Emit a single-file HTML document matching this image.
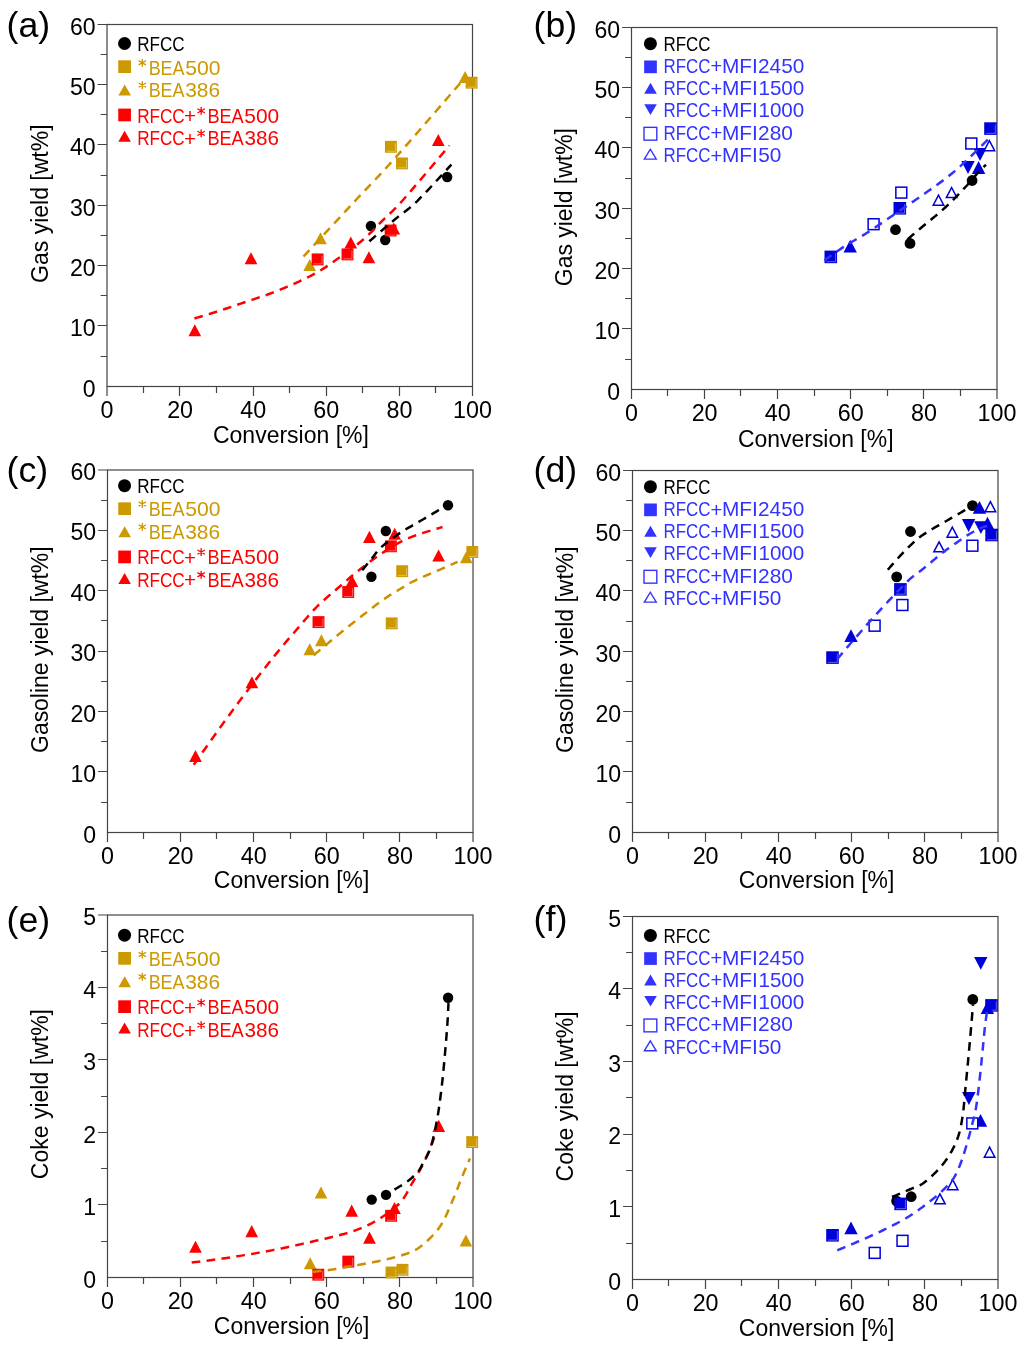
<!DOCTYPE html>
<html><head><meta charset="utf-8"><style>
html,body{margin:0;padding:0;background:#fff;}
svg{display:block;will-change:transform;font-family:"Liberation Sans", sans-serif;}
</style></head><body>
<svg width="1024" height="1352" viewBox="0 0 1024 1352">
<rect width="1024" height="1352" fill="#fff"/>
<rect x="107" y="24.5" width="365.5" height="362" fill="none" stroke="#444444" stroke-width="1.2"/>
<text x="95.6" y="396.5" font-size="23.8" text-anchor="end" textLength="12.84" lengthAdjust="spacingAndGlyphs">0</text>
<text x="95.6" y="336.17" font-size="23.8" text-anchor="end" textLength="25.68" lengthAdjust="spacingAndGlyphs">10</text>
<text x="95.6" y="275.83" font-size="23.8" text-anchor="end" textLength="25.68" lengthAdjust="spacingAndGlyphs">20</text>
<text x="95.6" y="215.5" font-size="23.8" text-anchor="end" textLength="25.68" lengthAdjust="spacingAndGlyphs">30</text>
<text x="95.6" y="155.17" font-size="23.8" text-anchor="end" textLength="25.68" lengthAdjust="spacingAndGlyphs">40</text>
<text x="95.6" y="94.83" font-size="23.8" text-anchor="end" textLength="25.68" lengthAdjust="spacingAndGlyphs">50</text>
<text x="95.6" y="34.5" font-size="23.8" text-anchor="end" textLength="25.68" lengthAdjust="spacingAndGlyphs">60</text>
<text x="107" y="418.4" font-size="23.8" text-anchor="middle" textLength="12.97" lengthAdjust="spacingAndGlyphs">0</text>
<text x="180.1" y="418.4" font-size="23.8" text-anchor="middle" textLength="25.94" lengthAdjust="spacingAndGlyphs">20</text>
<text x="253.2" y="418.4" font-size="23.8" text-anchor="middle" textLength="25.94" lengthAdjust="spacingAndGlyphs">40</text>
<text x="326.3" y="418.4" font-size="23.8" text-anchor="middle" textLength="25.94" lengthAdjust="spacingAndGlyphs">60</text>
<text x="399.4" y="418.4" font-size="23.8" text-anchor="middle" textLength="25.94" lengthAdjust="spacingAndGlyphs">80</text>
<text x="472.5" y="418.4" font-size="23.8" text-anchor="middle" textLength="38.92" lengthAdjust="spacingAndGlyphs">100</text>
<path d="M100.6,356.5H107M97.6,325.5H107M100.6,295.5H107M97.6,265.5H107M100.6,235.5H107M97.6,205.5H107M100.6,175.5H107M97.6,144.5H107M100.6,114.5H107M97.6,84.5H107M100.6,54.5H107M97.6,24.5H107M107,386.5V395.9M143.5,386.5V392.9M179.5,386.5V395.9M216.5,386.5V392.9M253.5,386.5V395.9M289.5,386.5V392.9M326.5,386.5V395.9M362.5,386.5V392.9M399.5,386.5V395.9M435.5,386.5V392.9M472.5,386.5V395.9" stroke="#444444" stroke-width="1.2" fill="none"/>
<text x="212.95" y="442.9" font-size="23.1" textLength="155.98" lengthAdjust="spacingAndGlyphs">Conversion [%]</text>
<text x="47.8" y="282.95" font-size="23.1" textLength="158.59" lengthAdjust="spacingAndGlyphs" transform="rotate(-90 47.8 282.95)">Gas yield [wt%]</text>
<text x="6.59" y="36.6" font-size="35" textLength="43.63" lengthAdjust="spacingAndGlyphs">(a)</text>
<circle cx="370.9" cy="226" r="5.2" fill="#000000"/>
<circle cx="385.2" cy="240" r="5.2" fill="#000000"/>
<circle cx="447.2" cy="177" r="5.2" fill="#000000"/>
<rect x="384.95" y="140.85" width="11.9" height="11.9" fill="#CC9900"/>
<path d="M395.35,143.05V151.25H386.75" fill="none" stroke="#fff" stroke-opacity="0.42" stroke-width="0.9"/>
<rect x="396.05" y="157.45" width="11.9" height="11.9" fill="#CC9900"/>
<path d="M406.45,159.65V167.85H397.85" fill="none" stroke="#fff" stroke-opacity="0.42" stroke-width="0.9"/>
<rect x="465.65" y="76.75" width="11.9" height="11.9" fill="#CC9900"/>
<path d="M476.05,78.95V87.15H467.45" fill="none" stroke="#fff" stroke-opacity="0.42" stroke-width="0.9"/>
<polygon points="303.35,271.05 316.05,271.05 309.7,258.95" fill="#CC9900"/>
<polygon points="314.15,244.35 326.85,244.35 320.5,232.25" fill="#CC9900"/>
<polygon points="458.75,83.05 471.45,83.05 465.1,70.95" fill="#CC9900"/>
<rect x="311.65" y="253.45" width="11.9" height="11.9" fill="#FF0000"/>
<path d="M322.05,255.65V263.85H313.45" fill="none" stroke="#fff" stroke-opacity="0.42" stroke-width="0.9"/>
<rect x="341.55" y="248.45" width="11.9" height="11.9" fill="#FF0000"/>
<path d="M351.95,250.65V258.85H343.35" fill="none" stroke="#fff" stroke-opacity="0.42" stroke-width="0.9"/>
<rect x="384.65" y="224.55" width="11.9" height="11.9" fill="#FF0000"/>
<path d="M395.05,226.75V234.95H386.45" fill="none" stroke="#fff" stroke-opacity="0.42" stroke-width="0.9"/>
<polygon points="188.45,336.25 201.15,336.25 194.8,324.15" fill="#FF0000"/>
<polygon points="244.65,264.25 257.35,264.25 251,252.15" fill="#FF0000"/>
<polygon points="344.45,248.55 357.15,248.55 350.8,236.45" fill="#FF0000"/>
<polygon points="362.55,263.35 375.25,263.35 368.9,251.25" fill="#FF0000"/>
<polygon points="387.45,234.55 400.15,234.55 393.8,222.45" fill="#FF0000"/>
<polygon points="431.95,146.05 444.65,146.05 438.3,133.95" fill="#FF0000"/>
<path d="M303.5,256.5 L306.71,253.04 L310.91,248.52 L315.9,243.13 L321.49,237.11 L327.48,230.66 L333.66,223.99 L339.84,217.33 L345.82,210.88 L351.41,204.87 L356.4,199.5 L360.78,194.82 L364.73,190.62 L368.39,186.77 L371.88,183.11 L375.32,179.5 L378.83,175.79 L382.53,171.83 L386.54,167.48 L390.99,162.58 L396,157 L401.89,150.35 L408.72,142.58 L416.2,134.01 L424.04,124.99 L431.98,115.84 L439.71,106.91 L446.96,98.53 L453.45,91.02 L458.89,84.74 L463,80" fill="none" stroke="#CD8E00" stroke-width="2.5" stroke-dasharray="8.7 6.3"/>
<path d="M194.4,318.5 L195.96,318.02 L197.94,317.42 L200.27,316.72 L202.89,315.93 L205.73,315.07 L208.73,314.15 L211.82,313.2 L214.94,312.23 L218.02,311.26 L221,310.3 L224.02,309.31 L227.21,308.24 L230.54,307.12 L233.93,305.97 L237.33,304.8 L240.69,303.65 L243.94,302.53 L247.03,301.47 L249.9,300.48 L252.5,299.6 L254.82,298.82 L256.93,298.11 L258.85,297.48 L260.62,296.89 L262.27,296.35 L263.83,295.83 L265.33,295.32 L266.8,294.82 L268.28,294.3 L269.8,293.75 L271.31,293.19 L272.76,292.64 L274.15,292.1 L275.5,291.56 L276.82,291.03 L278.13,290.49 L279.43,289.96 L280.73,289.41 L282.05,288.86 L283.4,288.3 L284.77,287.73 L286.13,287.16 L287.5,286.59 L288.87,286.01 L290.24,285.42 L291.62,284.83 L292.99,284.24 L294.36,283.63 L295.73,283.02 L297.1,282.4 L298.47,281.77 L299.85,281.14 L301.24,280.5 L302.62,279.85 L304,279.19 L305.38,278.53 L306.75,277.86 L308.11,277.18 L309.46,276.5 L310.8,275.8 L312.12,275.1 L313.44,274.39 L314.74,273.68 L316.04,272.96 L317.33,272.23 L318.61,271.48 L319.88,270.73 L321.16,269.97 L322.43,269.19 L323.7,268.4 L324.93,267.62 L326.09,266.87 L327.21,266.12 L328.32,265.37 L329.44,264.6 L330.6,263.79 L331.83,262.92 L333.16,261.97 L334.6,260.94 L336.2,259.8 L337.99,258.52 L339.98,257.11 L342.12,255.58 L344.36,253.98 L346.66,252.33 L348.96,250.66 L351.22,249.01 L353.4,247.39 L355.44,245.85 L357.3,244.4 L359,243.04 L360.61,241.72 L362.13,240.44 L363.57,239.19 L364.96,237.98 L366.29,236.78 L367.57,235.6 L368.83,234.43 L370.07,233.26 L371.3,232.1 L372.45,230.99 L373.47,229.98 L374.4,229.02 L375.28,228.09 L376.16,227.15 L377.07,226.16 L378.06,225.1 L379.16,223.93 L380.43,222.6 L381.9,221.1 L383.47,219.55 L385.04,218.06 L386.66,216.56 L388.37,214.99 L390.21,213.27 L392.23,211.33 L394.48,209.1 L396.99,206.52 L399.82,203.51 L403,200 L406.82,195.66 L411.4,190.37 L416.52,184.39 L421.97,177.99 L427.52,171.43 L432.97,164.98 L438.09,158.9 L442.68,153.45 L446.53,148.89 L449.4,145.5" fill="none" stroke="#FF0000" stroke-width="2.5" stroke-dasharray="8.7 6.3"/>
<path d="M369.3,241.3 L370.87,239.95 L372.92,238.19 L375.35,236.1 L378.08,233.76 L381,231.26 L384.03,228.66 L387.08,226.05 L390.05,223.52 L392.85,221.14 L395.4,219 L397.68,217.13 L399.8,215.47 L401.81,213.95 L403.75,212.5 L405.68,211.05 L407.65,209.53 L409.72,207.86 L411.93,205.98 L414.34,203.82 L417,201.3 L420.08,198.23 L423.61,194.59 L427.46,190.53 L431.49,186.23 L435.55,181.84 L439.5,177.55 L443.21,173.51 L446.52,169.9 L449.3,166.87 L451.4,164.6" fill="none" stroke="#000000" stroke-width="2.5" stroke-dasharray="8.7 6.3"/>
<circle cx="124.55" cy="43.5" r="6.5" fill="#000000"/>
<text x="137.2" y="51" font-size="21" fill="#000000" textLength="47.33" lengthAdjust="spacingAndGlyphs">RFCC</text>
<rect x="118.25" y="60.3" width="12.7" height="12.7" fill="#CC9900"/>
<path d="M142.3,59.4V66.2M139.05,60.92L145.55,64.67M139.05,64.67L145.55,60.92" stroke="#CC9900" stroke-width="1.35" stroke-linecap="round" fill="none"/>
<text x="148.63" y="74.6" font-size="21" fill="#CC9900" textLength="35.91" lengthAdjust="spacingAndGlyphs">BEA</text>
<text x="185.15" y="74.6" font-size="21" fill="#CC9900" textLength="35.26" lengthAdjust="spacingAndGlyphs">500</text>
<polygon points="118.4,95.6 131,95.6 124.7,84.6" fill="#CC9900"/>
<path d="M142.3,81.7V88.5M139.05,83.23L145.55,86.98M139.05,86.98L145.55,83.23" stroke="#CC9900" stroke-width="1.35" stroke-linecap="round" fill="none"/>
<text x="148.63" y="96.9" font-size="21" fill="#CC9900" textLength="35.91" lengthAdjust="spacingAndGlyphs">BEA</text>
<text x="185.21" y="96.9" font-size="21" fill="#CC9900" textLength="34.9" lengthAdjust="spacingAndGlyphs">386</text>
<rect x="118.25" y="108.6" width="12.7" height="12.7" fill="#FF0000"/>
<text x="137.2" y="122.7" font-size="21" fill="#FF0000" textLength="47.54" lengthAdjust="spacingAndGlyphs">RFCC</text>
<text x="184.11" y="123.3" font-size="21" fill="#FF0000" textLength="11.99" lengthAdjust="spacingAndGlyphs">+</text>
<path d="M201.15,107.5V114.3M197.9,109.03L204.4,112.78M197.9,112.78L204.4,109.03" stroke="#FF0000" stroke-width="1.35" stroke-linecap="round" fill="none"/>
<text x="207.41" y="122.7" font-size="21" fill="#FF0000" textLength="36.32" lengthAdjust="spacingAndGlyphs">BEA</text>
<text x="244.36" y="122.7" font-size="21" fill="#FF0000" textLength="34.84" lengthAdjust="spacingAndGlyphs">500</text>
<polygon points="118.3,141.85 130.9,141.85 124.6,130.85" fill="#FF0000"/>
<text x="137.2" y="145.2" font-size="21" fill="#FF0000" textLength="47.54" lengthAdjust="spacingAndGlyphs">RFCC</text>
<text x="184.11" y="145.8" font-size="21" fill="#FF0000" textLength="11.99" lengthAdjust="spacingAndGlyphs">+</text>
<path d="M201.15,130V136.8M197.9,131.52L204.4,135.27M197.9,135.27L204.4,131.52" stroke="#FF0000" stroke-width="1.35" stroke-linecap="round" fill="none"/>
<text x="207.41" y="145.2" font-size="21" fill="#FF0000" textLength="36.32" lengthAdjust="spacingAndGlyphs">BEA</text>
<text x="244.41" y="145.2" font-size="21" fill="#FF0000" textLength="34.48" lengthAdjust="spacingAndGlyphs">386</text>
<rect x="631.5" y="27.5" width="365.5" height="362" fill="none" stroke="#444444" stroke-width="1.2"/>
<text x="620.1" y="399.5" font-size="23.8" text-anchor="end" textLength="12.84" lengthAdjust="spacingAndGlyphs">0</text>
<text x="620.1" y="339.17" font-size="23.8" text-anchor="end" textLength="25.68" lengthAdjust="spacingAndGlyphs">10</text>
<text x="620.1" y="278.83" font-size="23.8" text-anchor="end" textLength="25.68" lengthAdjust="spacingAndGlyphs">20</text>
<text x="620.1" y="218.5" font-size="23.8" text-anchor="end" textLength="25.68" lengthAdjust="spacingAndGlyphs">30</text>
<text x="620.1" y="158.17" font-size="23.8" text-anchor="end" textLength="25.68" lengthAdjust="spacingAndGlyphs">40</text>
<text x="620.1" y="97.83" font-size="23.8" text-anchor="end" textLength="25.68" lengthAdjust="spacingAndGlyphs">50</text>
<text x="620.1" y="37.5" font-size="23.8" text-anchor="end" textLength="25.68" lengthAdjust="spacingAndGlyphs">60</text>
<text x="631.5" y="421.4" font-size="23.8" text-anchor="middle" textLength="12.97" lengthAdjust="spacingAndGlyphs">0</text>
<text x="704.6" y="421.4" font-size="23.8" text-anchor="middle" textLength="25.94" lengthAdjust="spacingAndGlyphs">20</text>
<text x="777.7" y="421.4" font-size="23.8" text-anchor="middle" textLength="25.94" lengthAdjust="spacingAndGlyphs">40</text>
<text x="850.8" y="421.4" font-size="23.8" text-anchor="middle" textLength="25.94" lengthAdjust="spacingAndGlyphs">60</text>
<text x="923.9" y="421.4" font-size="23.8" text-anchor="middle" textLength="25.94" lengthAdjust="spacingAndGlyphs">80</text>
<text x="997" y="421.4" font-size="23.8" text-anchor="middle" textLength="38.92" lengthAdjust="spacingAndGlyphs">100</text>
<path d="M625.1,359.5H631.5M622.1,328.5H631.5M625.1,298.5H631.5M622.1,268.5H631.5M625.1,238.5H631.5M622.1,208.5H631.5M625.1,178.5H631.5M622.1,147.5H631.5M625.1,117.5H631.5M622.1,87.5H631.5M625.1,57.5H631.5M622.1,27.5H631.5M631.5,389.5V398.9M667.5,389.5V395.9M704.5,389.5V398.9M740.5,389.5V395.9M777.5,389.5V398.9M814.5,389.5V395.9M850.5,389.5V398.9M887.5,389.5V395.9M923.5,389.5V398.9M960.5,389.5V395.9M997,389.5V398.9" stroke="#444444" stroke-width="1.2" fill="none"/>
<text x="737.95" y="446.9" font-size="23.1" textLength="155.57" lengthAdjust="spacingAndGlyphs">Conversion [%]</text>
<text x="572.1" y="286.15" font-size="23.1" textLength="158.08" lengthAdjust="spacingAndGlyphs" transform="rotate(-90 572.1 286.15)">Gas yield [wt%]</text>
<text x="533.59" y="36.6" font-size="35" textLength="43.52" lengthAdjust="spacingAndGlyphs">(b)</text>
<circle cx="895.5" cy="229.7" r="5.4" fill="#000000"/>
<circle cx="910" cy="243.4" r="5.4" fill="#000000"/>
<circle cx="972.1" cy="180.5" r="5.4" fill="#000000"/>
<rect x="824.5" y="250.6" width="12.6" height="12.6" fill="#0000D8"/>
<path d="M835.6,252.8V261.7H826.3" fill="none" stroke="#fff" stroke-opacity="0.42" stroke-width="0.9"/>
<rect x="893.5" y="202" width="12.6" height="12.6" fill="#0000D8"/>
<path d="M904.6,204.2V213.1H895.3" fill="none" stroke="#fff" stroke-opacity="0.42" stroke-width="0.9"/>
<rect x="984.2" y="122.3" width="12.6" height="12.6" fill="#0000D8"/>
<path d="M995.3,124.5V133.4H986" fill="none" stroke="#fff" stroke-opacity="0.42" stroke-width="0.9"/>
<polygon points="843.5,252.5 856.9,252.5 850.2,239.7" fill="#0000D8"/>
<polygon points="971.9,173.9 985.3,173.9 978.6,161.1" fill="#0000D8"/>
<polygon points="961.3,161.1 974.7,161.1 968,173.9" fill="#0000D8"/>
<polygon points="973.3,148.1 986.7,148.1 980,160.9" fill="#0000D8"/>
<rect x="868.15" y="218.75" width="10.9" height="10.9" fill="#fff" stroke="#0000D8" stroke-width="1.5"/>
<rect x="895.85" y="187.15" width="10.9" height="10.9" fill="#fff" stroke="#0000D8" stroke-width="1.5"/>
<rect x="965.85" y="138.05" width="10.9" height="10.9" fill="#fff" stroke="#0000D8" stroke-width="1.5"/>
<polygon points="933.24,205.15 943.76,205.15 938.5,195.12" fill="#fff" stroke="#0000D8" stroke-width="1.5"/>
<polygon points="946.34,197.55 956.86,197.55 951.6,187.52" fill="#fff" stroke="#0000D8" stroke-width="1.5"/>
<polygon points="984.14,150.65 994.66,150.65 989.4,140.62" fill="#fff" stroke="#0000D8" stroke-width="1.5"/>
<path d="M824.4,260.4 L825.52,259.6 L826.93,258.59 L828.59,257.4 L830.45,256.06 L832.48,254.61 L834.63,253.08 L836.87,251.51 L839.15,249.93 L841.44,248.38 L843.7,246.9 L845.98,245.45 L848.35,243.99 L850.81,242.51 L853.33,241.02 L855.89,239.5 L858.49,237.96 L861.11,236.41 L863.73,234.83 L866.33,233.23 L868.9,231.6 L871.44,229.95 L873.96,228.28 L876.48,226.59 L879,224.88 L881.54,223.15 L884.09,221.39 L886.68,219.61 L889.3,217.8 L891.97,215.97 L894.7,214.1 L897.49,212.21 L900.32,210.29 L903.21,208.36 L906.12,206.39 L909.08,204.4 L912.05,202.38 L915.05,200.33 L918.06,198.25 L921.08,196.14 L924.1,194 L927.13,191.85 L930.17,189.7 L933.23,187.55 L936.3,185.36 L939.39,183.14 L942.5,180.87 L945.62,178.52 L948.77,176.09 L951.92,173.55 L955.1,170.9 L958.45,167.97 L962.05,164.68 L965.82,161.15 L969.63,157.51 L973.39,153.86 L976.99,150.32 L980.34,147.02 L983.33,144.07 L985.85,141.59 L987.8,139.7" fill="none" stroke="#3333FF" stroke-width="2.5" stroke-dasharray="8.7 6.3"/>
<path d="M907.6,239.3 L908.36,238.65 L909.28,237.86 L910.35,236.94 L911.56,235.91 L912.9,234.76 L914.36,233.52 L915.93,232.18 L917.6,230.76 L919.36,229.26 L921.2,227.7 L923.19,226.04 L925.37,224.24 L927.71,222.33 L930.16,220.33 L932.69,218.25 L935.27,216.12 L937.84,213.96 L940.38,211.79 L942.85,209.63 L945.2,207.5 L947.52,205.32 L949.89,203.03 L952.27,200.68 L954.65,198.29 L956.98,195.91 L959.23,193.57 L961.38,191.33 L963.4,189.21 L965.25,187.25 L966.9,185.5 L968.32,183.97 L969.53,182.63 L970.56,181.44 L971.45,180.38 L972.24,179.41 L972.98,178.49 L973.69,177.61 L974.42,176.72 L975.21,175.79 L976.1,174.8 L977.1,173.72 L978.18,172.58 L979.3,171.41 L980.45,170.23 L981.58,169.08 L982.66,167.98 L983.66,166.97 L984.56,166.06 L985.31,165.3 L985.9,164.7" fill="none" stroke="#000000" stroke-width="2.5" stroke-dasharray="8.7 6.3"/>
<circle cx="650.4" cy="43.7" r="6.5" fill="#000000"/>
<text x="663.56" y="51" font-size="21" fill="#000000" textLength="46.97" lengthAdjust="spacingAndGlyphs">RFCC</text>
<rect x="644.15" y="60.5" width="12.7" height="12.7" fill="#3333FF"/>
<text x="663.51" y="72.8" font-size="21" fill="#3333FF" textLength="46.92" lengthAdjust="spacingAndGlyphs">RFCC</text>
<text x="710.43" y="73.4" font-size="21" fill="#3333FF" textLength="11.75" lengthAdjust="spacingAndGlyphs">+</text>
<text x="721.99" y="72.8" font-size="21" fill="#3333FF" textLength="35.92" lengthAdjust="spacingAndGlyphs">MFI</text>
<text x="758.06" y="72.8" font-size="21" fill="#3333FF" textLength="46.24" lengthAdjust="spacingAndGlyphs">2450</text>
<polygon points="644.2,93.75 656.8,93.75 650.5,82.75" fill="#3333FF"/>
<text x="663.51" y="94.9" font-size="21" fill="#3333FF" textLength="46.92" lengthAdjust="spacingAndGlyphs">RFCC</text>
<text x="710.43" y="95.5" font-size="21" fill="#3333FF" textLength="11.75" lengthAdjust="spacingAndGlyphs">+</text>
<text x="721.99" y="94.9" font-size="21" fill="#3333FF" textLength="35.92" lengthAdjust="spacingAndGlyphs">MFI</text>
<text x="758.43" y="94.9" font-size="21" fill="#3333FF" textLength="45.86" lengthAdjust="spacingAndGlyphs">1500</text>
<polygon points="644.2,104.3 656.8,104.3 650.5,114.9" fill="#3333FF"/>
<text x="663.51" y="117.1" font-size="21" fill="#3333FF" textLength="46.92" lengthAdjust="spacingAndGlyphs">RFCC</text>
<text x="710.43" y="117.7" font-size="21" fill="#3333FF" textLength="11.75" lengthAdjust="spacingAndGlyphs">+</text>
<text x="721.99" y="117.1" font-size="21" fill="#3333FF" textLength="35.92" lengthAdjust="spacingAndGlyphs">MFI</text>
<text x="758.43" y="117.1" font-size="21" fill="#3333FF" textLength="45.86" lengthAdjust="spacingAndGlyphs">1000</text>
<rect x="644" y="127.35" width="12.8" height="12.8" fill="#fff" stroke="#3333FF" stroke-width="1.4"/>
<text x="663.51" y="139.6" font-size="21" fill="#3333FF" textLength="46.92" lengthAdjust="spacingAndGlyphs">RFCC</text>
<text x="710.43" y="140.2" font-size="21" fill="#3333FF" textLength="11.75" lengthAdjust="spacingAndGlyphs">+</text>
<text x="721.99" y="139.6" font-size="21" fill="#3333FF" textLength="35.92" lengthAdjust="spacingAndGlyphs">MFI</text>
<text x="758.06" y="139.6" font-size="21" fill="#3333FF" textLength="34.85" lengthAdjust="spacingAndGlyphs">280</text>
<polygon points="644.34,159.1 656.26,159.1 650.3,149.25" fill="#fff" stroke="#3333FF" stroke-width="1.4"/>
<text x="663.51" y="161.9" font-size="21" fill="#3333FF" textLength="46.92" lengthAdjust="spacingAndGlyphs">RFCC</text>
<text x="710.43" y="162.5" font-size="21" fill="#3333FF" textLength="11.75" lengthAdjust="spacingAndGlyphs">+</text>
<text x="721.99" y="161.9" font-size="21" fill="#3333FF" textLength="35.92" lengthAdjust="spacingAndGlyphs">MFI</text>
<text x="758.27" y="161.9" font-size="21" fill="#3333FF" textLength="23.13" lengthAdjust="spacingAndGlyphs">50</text>
<rect x="107.5" y="470" width="365.5" height="362.5" fill="none" stroke="#444444" stroke-width="1.2"/>
<text x="96.1" y="842.5" font-size="23.8" text-anchor="end" textLength="12.84" lengthAdjust="spacingAndGlyphs">0</text>
<text x="96.1" y="782.08" font-size="23.8" text-anchor="end" textLength="25.68" lengthAdjust="spacingAndGlyphs">10</text>
<text x="96.1" y="721.67" font-size="23.8" text-anchor="end" textLength="25.68" lengthAdjust="spacingAndGlyphs">20</text>
<text x="96.1" y="661.25" font-size="23.8" text-anchor="end" textLength="25.68" lengthAdjust="spacingAndGlyphs">30</text>
<text x="96.1" y="600.83" font-size="23.8" text-anchor="end" textLength="25.68" lengthAdjust="spacingAndGlyphs">40</text>
<text x="96.1" y="540.42" font-size="23.8" text-anchor="end" textLength="25.68" lengthAdjust="spacingAndGlyphs">50</text>
<text x="96.1" y="480" font-size="23.8" text-anchor="end" textLength="25.68" lengthAdjust="spacingAndGlyphs">60</text>
<text x="107.5" y="864.4" font-size="23.8" text-anchor="middle" textLength="12.97" lengthAdjust="spacingAndGlyphs">0</text>
<text x="180.6" y="864.4" font-size="23.8" text-anchor="middle" textLength="25.94" lengthAdjust="spacingAndGlyphs">20</text>
<text x="253.7" y="864.4" font-size="23.8" text-anchor="middle" textLength="25.94" lengthAdjust="spacingAndGlyphs">40</text>
<text x="326.8" y="864.4" font-size="23.8" text-anchor="middle" textLength="25.94" lengthAdjust="spacingAndGlyphs">60</text>
<text x="399.9" y="864.4" font-size="23.8" text-anchor="middle" textLength="25.94" lengthAdjust="spacingAndGlyphs">80</text>
<text x="473" y="864.4" font-size="23.8" text-anchor="middle" textLength="38.92" lengthAdjust="spacingAndGlyphs">100</text>
<path d="M101.1,802.5H107.5M98.1,771.5H107.5M101.1,741.5H107.5M98.1,711.5H107.5M101.1,681.5H107.5M98.1,651.5H107.5M101.1,620.5H107.5M98.1,590.5H107.5M101.1,560.5H107.5M98.1,530.5H107.5M101.1,500.5H107.5M98.1,470H107.5M107.5,832.5V841.9M143.5,832.5V838.9M180.5,832.5V841.9M216.5,832.5V838.9M253.5,832.5V841.9M290.5,832.5V838.9M326.5,832.5V841.9M363.5,832.5V838.9M399.5,832.5V841.9M436.5,832.5V838.9M473,832.5V841.9" stroke="#444444" stroke-width="1.2" fill="none"/>
<text x="213.85" y="888.4" font-size="23.1" textLength="155.47" lengthAdjust="spacingAndGlyphs">Conversion [%]</text>
<text x="48" y="752.95" font-size="23.1" textLength="206.47" lengthAdjust="spacingAndGlyphs" transform="rotate(-90 48 752.95)">Gasoline yield [wt%]</text>
<text x="6.59" y="481.7" font-size="35" textLength="41.63" lengthAdjust="spacingAndGlyphs">(c)</text>
<circle cx="371.4" cy="576.8" r="5.2" fill="#000000"/>
<circle cx="385.8" cy="531" r="5.2" fill="#000000"/>
<circle cx="448" cy="505.3" r="5.2" fill="#000000"/>
<rect x="385.75" y="617.45" width="11.9" height="11.9" fill="#CC9900"/>
<path d="M396.15,619.65V627.85H387.55" fill="none" stroke="#fff" stroke-opacity="0.42" stroke-width="0.9"/>
<rect x="396.25" y="565.25" width="11.9" height="11.9" fill="#CC9900"/>
<path d="M406.65,567.45V575.65H398.05" fill="none" stroke="#fff" stroke-opacity="0.42" stroke-width="0.9"/>
<rect x="466.35" y="546.05" width="11.9" height="11.9" fill="#CC9900"/>
<path d="M476.75,548.25V556.45H468.15" fill="none" stroke="#fff" stroke-opacity="0.42" stroke-width="0.9"/>
<polygon points="303.45,655.25 316.15,655.25 309.8,643.15" fill="#CC9900"/>
<polygon points="315.05,646.35 327.75,646.35 321.4,634.25" fill="#CC9900"/>
<polygon points="459.95,563.35 472.65,563.35 466.3,551.25" fill="#CC9900"/>
<rect x="312.55" y="616.15" width="11.9" height="11.9" fill="#FF0000"/>
<path d="M322.95,618.35V626.55H314.35" fill="none" stroke="#fff" stroke-opacity="0.42" stroke-width="0.9"/>
<rect x="342.25" y="586.05" width="11.9" height="11.9" fill="#FF0000"/>
<path d="M352.65,588.25V596.45H344.05" fill="none" stroke="#fff" stroke-opacity="0.42" stroke-width="0.9"/>
<rect x="384.95" y="540.35" width="11.9" height="11.9" fill="#FF0000"/>
<path d="M395.35,542.55V550.75H386.75" fill="none" stroke="#fff" stroke-opacity="0.42" stroke-width="0.9"/>
<polygon points="189.15,762.05 201.85,762.05 195.5,749.95" fill="#FF0000"/>
<polygon points="245.55,688.35 258.25,688.35 251.9,676.25" fill="#FF0000"/>
<polygon points="345.65,587.05 358.35,587.05 352,574.95" fill="#FF0000"/>
<polygon points="363.05,542.95 375.75,542.95 369.4,530.85" fill="#FF0000"/>
<polygon points="388.35,539.85 401.05,539.85 394.7,527.75" fill="#FF0000"/>
<polygon points="432.25,561.55 444.95,561.55 438.6,549.45" fill="#FF0000"/>
<path d="M313.7,655.2 L314.77,654.3 L316.19,653.12 L317.87,651.71 L319.76,650.14 L321.77,648.46 L323.84,646.73 L325.9,645.01 L327.88,643.36 L329.7,641.83 L331.3,640.5 L332.71,639.33 L334.02,638.23 L335.24,637.21 L336.4,636.24 L337.52,635.31 L338.6,634.41 L339.68,633.52 L340.75,632.63 L341.86,631.73 L343,630.8 L344.17,629.86 L345.32,628.92 L346.48,628 L347.63,627.08 L348.79,626.16 L349.95,625.24 L351.12,624.31 L352.3,623.39 L353.49,622.45 L354.7,621.5 L355.94,620.53 L357.21,619.55 L358.5,618.55 L359.8,617.54 L361.11,616.54 L362.42,615.54 L363.71,614.55 L364.97,613.57 L366.21,612.62 L367.4,611.7 L368.54,610.81 L369.64,609.95 L370.69,609.12 L371.73,608.3 L372.75,607.49 L373.77,606.68 L374.81,605.88 L375.86,605.07 L376.96,604.24 L378.1,603.4 L379.31,602.52 L380.58,601.61 L381.9,600.67 L383.25,599.73 L384.6,598.79 L385.94,597.86 L387.25,596.97 L388.51,596.12 L389.7,595.32 L390.8,594.6 L391.79,593.96 L392.67,593.42 L393.47,592.93 L394.22,592.49 L394.94,592.08 L395.66,591.67 L396.41,591.25 L397.22,590.8 L398.1,590.29 L399.1,589.7 L400.19,589.04 L401.35,588.33 L402.56,587.57 L403.81,586.79 L405.11,585.98 L406.45,585.16 L407.81,584.35 L409.19,583.54 L410.59,582.75 L412,582 L413.43,581.27 L414.89,580.56 L416.38,579.85 L417.89,579.15 L419.43,578.46 L420.99,577.77 L422.55,577.08 L424.13,576.39 L425.71,575.7 L427.3,575 L428.91,574.3 L430.55,573.59 L432.22,572.87 L433.9,572.16 L435.59,571.45 L437.27,570.74 L438.93,570.04 L440.56,569.35 L442.16,568.67 L443.7,568 L445.25,567.32 L446.86,566.61 L448.49,565.89 L450.11,565.16 L451.67,564.46 L453.16,563.8 L454.53,563.18 L455.75,562.63 L456.78,562.17 L457.6,561.8" fill="none" stroke="#CD8E00" stroke-width="2.5" stroke-dasharray="8.7 6.3"/>
<path d="M193.7,764.8 L195.25,762.61 L197.23,759.8 L199.57,756.47 L202.2,752.74 L205.04,748.72 L208.01,744.51 L211.05,740.22 L214.08,735.97 L217.02,731.86 L219.8,728 L222.48,724.31 L225.16,720.61 L227.86,716.91 L230.57,713.22 L233.29,709.51 L236.03,705.8 L238.78,702.09 L241.56,698.37 L244.37,694.64 L247.2,690.9 L250.11,687.08 L253.13,683.14 L256.22,679.13 L259.34,675.1 L262.46,671.09 L265.54,667.16 L268.54,663.34 L271.43,659.7 L274.16,656.27 L276.7,653.1 L279.03,650.23 L281.18,647.62 L283.17,645.23 L285.05,643.01 L286.85,640.91 L288.61,638.88 L290.35,636.87 L292.13,634.83 L293.97,632.73 L295.9,630.5 L297.91,628.16 L299.95,625.77 L302.01,623.35 L304.08,620.91 L306.17,618.48 L308.26,616.06 L310.36,613.69 L312.45,611.38 L314.53,609.14 L316.6,607 L318.66,604.96 L320.7,603.02 L322.75,601.14 L324.79,599.32 L326.83,597.55 L328.87,595.8 L330.92,594.07 L332.97,592.34 L335.03,590.58 L337.1,588.8 L339.16,587 L341.21,585.21 L343.25,583.42 L345.29,581.63 L347.34,579.85 L349.42,578.07 L351.52,576.28 L353.66,574.49 L355.85,572.7 L358.1,570.9 L360.41,569.08 L362.77,567.22 L365.18,565.35 L367.62,563.47 L370.1,561.59 L372.6,559.74 L375.12,557.9 L377.65,556.11 L380.18,554.38 L382.7,552.7 L385.19,551.08 L387.65,549.49 L390.09,547.95 L392.54,546.43 L395.01,544.96 L397.53,543.52 L400.12,542.11 L402.8,540.74 L405.58,539.4 L408.5,538.1 L411.72,536.8 L415.32,535.48 L419.17,534.16 L423.14,532.88 L427.11,531.64 L430.95,530.47 L434.54,529.4 L437.74,528.45 L440.44,527.64 L442.5,527" fill="none" stroke="#FF0000" stroke-width="2.5" stroke-dasharray="8.7 6.3"/>
<path d="M362.2,570.3 L362.8,569.56 L363.57,568.61 L364.48,567.48 L365.51,566.21 L366.61,564.84 L367.76,563.42 L368.93,561.99 L370.08,560.58 L371.18,559.24 L372.2,558 L373.12,556.85 L373.97,555.75 L374.77,554.68 L375.56,553.62 L376.36,552.56 L377.2,551.5 L378.12,550.41 L379.13,549.29 L380.29,548.13 L381.6,546.9 L383.09,545.6 L384.74,544.22 L386.52,542.8 L388.41,541.33 L390.36,539.85 L392.37,538.37 L394.39,536.9 L396.4,535.48 L398.38,534.1 L400.3,532.8 L402.17,531.57 L404.04,530.4 L405.9,529.27 L407.76,528.17 L409.62,527.1 L411.5,526.04 L413.38,524.98 L415.27,523.91 L417.18,522.82 L419.1,521.7 L421.14,520.5 L423.33,519.21 L425.62,517.87 L427.94,516.5 L430.23,515.16 L432.42,513.87 L434.46,512.67 L436.28,511.6 L437.81,510.7 L439,510" fill="none" stroke="#000000" stroke-width="2.5" stroke-dasharray="8.7 6.3"/>
<circle cx="124.55" cy="485.65" r="6.5" fill="#000000"/>
<text x="137.2" y="493" font-size="21" fill="#000000" textLength="47.33" lengthAdjust="spacingAndGlyphs">RFCC</text>
<rect x="118.25" y="502.35" width="12.7" height="12.7" fill="#CC9900"/>
<path d="M142.3,500.6V507.4M139.05,502.12L145.55,505.87M139.05,505.87L145.55,502.12" stroke="#CC9900" stroke-width="1.35" stroke-linecap="round" fill="none"/>
<text x="148.63" y="515.8" font-size="21" fill="#CC9900" textLength="35.91" lengthAdjust="spacingAndGlyphs">BEA</text>
<text x="185.15" y="515.8" font-size="21" fill="#CC9900" textLength="35.26" lengthAdjust="spacingAndGlyphs">500</text>
<polygon points="118.4,537.35 131,537.35 124.7,526.35" fill="#CC9900"/>
<path d="M142.3,523.5V530.3M139.05,525.03L145.55,528.78M139.05,528.78L145.55,525.03" stroke="#CC9900" stroke-width="1.35" stroke-linecap="round" fill="none"/>
<text x="148.63" y="538.7" font-size="21" fill="#CC9900" textLength="35.91" lengthAdjust="spacingAndGlyphs">BEA</text>
<text x="185.21" y="538.7" font-size="21" fill="#CC9900" textLength="34.9" lengthAdjust="spacingAndGlyphs">386</text>
<rect x="118.25" y="550.55" width="12.7" height="12.7" fill="#FF0000"/>
<text x="137.2" y="563.9" font-size="21" fill="#FF0000" textLength="47.54" lengthAdjust="spacingAndGlyphs">RFCC</text>
<text x="184.11" y="564.5" font-size="21" fill="#FF0000" textLength="11.99" lengthAdjust="spacingAndGlyphs">+</text>
<path d="M201.15,548.7V555.5M197.9,550.23L204.4,553.98M197.9,553.98L204.4,550.23" stroke="#FF0000" stroke-width="1.35" stroke-linecap="round" fill="none"/>
<text x="207.41" y="563.9" font-size="21" fill="#FF0000" textLength="36.32" lengthAdjust="spacingAndGlyphs">BEA</text>
<text x="244.36" y="563.9" font-size="21" fill="#FF0000" textLength="34.84" lengthAdjust="spacingAndGlyphs">500</text>
<polygon points="118.3,583.9 130.9,583.9 124.6,572.9" fill="#FF0000"/>
<text x="137.2" y="586.6" font-size="21" fill="#FF0000" textLength="47.54" lengthAdjust="spacingAndGlyphs">RFCC</text>
<text x="184.11" y="587.2" font-size="21" fill="#FF0000" textLength="11.99" lengthAdjust="spacingAndGlyphs">+</text>
<path d="M201.15,571.4V578.2M197.9,572.93L204.4,576.68M197.9,576.68L204.4,572.93" stroke="#FF0000" stroke-width="1.35" stroke-linecap="round" fill="none"/>
<text x="207.41" y="586.6" font-size="21" fill="#FF0000" textLength="36.32" lengthAdjust="spacingAndGlyphs">BEA</text>
<text x="244.41" y="586.6" font-size="21" fill="#FF0000" textLength="34.48" lengthAdjust="spacingAndGlyphs">386</text>
<rect x="632.5" y="470.5" width="365.5" height="362" fill="none" stroke="#444444" stroke-width="1.2"/>
<text x="621.1" y="842.5" font-size="23.8" text-anchor="end" textLength="12.84" lengthAdjust="spacingAndGlyphs">0</text>
<text x="621.1" y="782.17" font-size="23.8" text-anchor="end" textLength="25.68" lengthAdjust="spacingAndGlyphs">10</text>
<text x="621.1" y="721.83" font-size="23.8" text-anchor="end" textLength="25.68" lengthAdjust="spacingAndGlyphs">20</text>
<text x="621.1" y="661.5" font-size="23.8" text-anchor="end" textLength="25.68" lengthAdjust="spacingAndGlyphs">30</text>
<text x="621.1" y="601.17" font-size="23.8" text-anchor="end" textLength="25.68" lengthAdjust="spacingAndGlyphs">40</text>
<text x="621.1" y="540.83" font-size="23.8" text-anchor="end" textLength="25.68" lengthAdjust="spacingAndGlyphs">50</text>
<text x="621.1" y="480.5" font-size="23.8" text-anchor="end" textLength="25.68" lengthAdjust="spacingAndGlyphs">60</text>
<text x="632.5" y="864.4" font-size="23.8" text-anchor="middle" textLength="12.97" lengthAdjust="spacingAndGlyphs">0</text>
<text x="705.6" y="864.4" font-size="23.8" text-anchor="middle" textLength="25.94" lengthAdjust="spacingAndGlyphs">20</text>
<text x="778.7" y="864.4" font-size="23.8" text-anchor="middle" textLength="25.94" lengthAdjust="spacingAndGlyphs">40</text>
<text x="851.8" y="864.4" font-size="23.8" text-anchor="middle" textLength="25.94" lengthAdjust="spacingAndGlyphs">60</text>
<text x="924.9" y="864.4" font-size="23.8" text-anchor="middle" textLength="25.94" lengthAdjust="spacingAndGlyphs">80</text>
<text x="998" y="864.4" font-size="23.8" text-anchor="middle" textLength="38.92" lengthAdjust="spacingAndGlyphs">100</text>
<path d="M626.1,802.5H632.5M623.1,771.5H632.5M626.1,741.5H632.5M623.1,711.5H632.5M626.1,681.5H632.5M623.1,651.5H632.5M626.1,621.5H632.5M623.1,590.5H632.5M626.1,560.5H632.5M623.1,530.5H632.5M626.1,500.5H632.5M623.1,470.5H632.5M632.5,832.5V841.9M668.5,832.5V838.9M705.5,832.5V841.9M741.5,832.5V838.9M778.5,832.5V841.9M815.5,832.5V838.9M851.5,832.5V841.9M888.5,832.5V838.9M924.5,832.5V841.9M961.5,832.5V838.9M998,832.5V841.9" stroke="#444444" stroke-width="1.2" fill="none"/>
<text x="738.85" y="888.4" font-size="23.1" textLength="155.47" lengthAdjust="spacingAndGlyphs">Conversion [%]</text>
<text x="572.6" y="752.95" font-size="23.1" textLength="206.47" lengthAdjust="spacingAndGlyphs" transform="rotate(-90 572.6 752.95)">Gasoline yield [wt%]</text>
<text x="533.59" y="481.7" font-size="35" textLength="43.52" lengthAdjust="spacingAndGlyphs">(d)</text>
<circle cx="896.7" cy="576.9" r="5.4" fill="#000000"/>
<circle cx="910.5" cy="531.5" r="5.4" fill="#000000"/>
<circle cx="972.5" cy="505.6" r="5.4" fill="#000000"/>
<rect x="826.2" y="651.3" width="12.6" height="12.6" fill="#0000D8"/>
<path d="M837.3,653.5V662.4H828" fill="none" stroke="#fff" stroke-opacity="0.42" stroke-width="0.9"/>
<rect x="894.1" y="583.1" width="12.6" height="12.6" fill="#0000D8"/>
<path d="M905.2,585.3V594.2H895.9" fill="none" stroke="#fff" stroke-opacity="0.42" stroke-width="0.9"/>
<rect x="985.3" y="528.7" width="12.6" height="12.6" fill="#0000D8"/>
<path d="M996.4,530.9V539.8H987.1" fill="none" stroke="#fff" stroke-opacity="0.42" stroke-width="0.9"/>
<polygon points="844.3,642.1 857.7,642.1 851,629.3" fill="#0000D8"/>
<polygon points="972.8,513.8 986.2,513.8 979.5,501" fill="#0000D8"/>
<polygon points="980.8,529.6 994.2,529.6 987.5,516.8" fill="#0000D8"/>
<polygon points="961.9,519.1 975.3,519.1 968.6,531.9" fill="#0000D8"/>
<polygon points="974.2,521.3 987.6,521.3 980.9,534.1" fill="#0000D8"/>
<rect x="869.15" y="620.25" width="10.9" height="10.9" fill="#fff" stroke="#0000D8" stroke-width="1.5"/>
<rect x="896.95" y="599.55" width="10.9" height="10.9" fill="#fff" stroke="#0000D8" stroke-width="1.5"/>
<rect x="966.95" y="540.25" width="10.9" height="10.9" fill="#fff" stroke="#0000D8" stroke-width="1.5"/>
<polygon points="933.84,551.85 944.36,551.85 939.1,541.82" fill="#fff" stroke="#0000D8" stroke-width="1.5"/>
<polygon points="947.04,537.15 957.56,537.15 952.3,527.12" fill="#fff" stroke="#0000D8" stroke-width="1.5"/>
<polygon points="985.14,511.75 995.66,511.75 990.4,501.72" fill="#fff" stroke="#0000D8" stroke-width="1.5"/>
<path d="M837,659.5 L837.53,658.87 L838.17,658.09 L838.92,657.19 L839.76,656.17 L840.69,655.05 L841.7,653.84 L842.78,652.56 L843.91,651.21 L845.09,649.82 L846.3,648.4 L847.59,646.9 L849,645.27 L850.49,643.54 L852.05,641.74 L853.66,639.89 L855.29,638.02 L856.92,636.15 L858.53,634.31 L860.1,632.52 L861.6,630.8 L863.04,629.16 L864.44,627.55 L865.82,625.98 L867.18,624.44 L868.53,622.9 L869.89,621.36 L871.26,619.82 L872.67,618.25 L874.11,616.64 L875.6,615 L877.14,613.31 L878.71,611.6 L880.32,609.86 L881.94,608.1 L883.59,606.32 L885.26,604.54 L886.94,602.75 L888.62,600.96 L890.31,599.18 L892,597.4 L893.72,595.59 L895.51,593.7 L897.33,591.78 L899.17,589.84 L901.01,587.92 L902.81,586.05 L904.57,584.25 L906.25,582.56 L907.83,581 L909.3,579.6 L910.64,578.39 L911.86,577.34 L912.99,576.43 L914.05,575.62 L915.06,574.89 L916.03,574.2 L916.99,573.53 L917.96,572.84 L918.96,572.11 L920,571.3 L921.07,570.44 L922.14,569.59 L923.2,568.73 L924.27,567.86 L925.34,566.99 L926.41,566.12 L927.49,565.23 L928.58,564.33 L929.68,563.42 L930.8,562.5 L931.93,561.55 L933.08,560.58 L934.24,559.59 L935.42,558.58 L936.59,557.57 L937.78,556.56 L938.96,555.56 L940.15,554.58 L941.33,553.62 L942.5,552.7 L943.67,551.81 L944.82,550.95 L945.98,550.12 L947.13,549.3 L948.29,548.49 L949.45,547.68 L950.62,546.88 L951.8,546.07 L952.99,545.24 L954.2,544.4 L955.43,543.53 L956.68,542.64 L957.94,541.74 L959.22,540.82 L960.5,539.91 L961.79,539.01 L963.07,538.12 L964.36,537.25 L965.63,536.41 L966.9,535.6 L968.18,534.82 L969.49,534.03 L970.81,533.26 L972.14,532.51 L973.46,531.78 L974.75,531.08 L976,530.42 L977.2,529.79 L978.34,529.22 L979.4,528.7 L980.41,528.23 L981.39,527.82 L982.33,527.44 L983.23,527.11 L984.08,526.82 L984.87,526.56 L985.58,526.33 L986.21,526.13 L986.76,525.95 L987.2,525.8" fill="none" stroke="#3333FF" stroke-width="2.5" stroke-dasharray="8.7 6.3"/>
<path d="M887.8,569.8 L888.38,569.13 L889.12,568.28 L889.99,567.26 L890.97,566.13 L892.03,564.9 L893.14,563.62 L894.29,562.31 L895.43,561.02 L896.54,559.77 L897.6,558.6 L898.63,557.47 L899.68,556.34 L900.74,555.2 L901.81,554.05 L902.89,552.91 L903.97,551.78 L905.05,550.66 L906.14,549.55 L907.22,548.46 L908.3,547.4 L909.37,546.36 L910.42,545.33 L911.47,544.31 L912.52,543.31 L913.57,542.32 L914.64,541.34 L915.72,540.39 L916.82,539.44 L917.94,538.51 L919.1,537.6 L920.29,536.71 L921.5,535.84 L922.74,534.98 L924,534.15 L925.27,533.33 L926.56,532.51 L927.86,531.71 L929.17,530.9 L930.49,530.1 L931.8,529.3 L933.13,528.5 L934.48,527.7 L935.84,526.91 L937.22,526.12 L938.6,525.34 L939.98,524.56 L941.36,523.79 L942.72,523.02 L944.07,522.26 L945.4,521.5 L946.73,520.74 L948.07,519.97 L949.43,519.19 L950.78,518.42 L952.11,517.66 L953.41,516.91 L954.67,516.18 L955.88,515.49 L957.03,514.82 L958.1,514.2 L959.12,513.6 L960.11,513.02 L961.07,512.45 L961.98,511.91 L962.84,511.39 L963.64,510.92 L964.36,510.48 L965,510.1 L965.55,509.77 L966,509.5" fill="none" stroke="#000000" stroke-width="2.5" stroke-dasharray="8.7 6.3"/>
<circle cx="650.4" cy="486.7" r="6.5" fill="#000000"/>
<text x="663.56" y="494.1" font-size="21" fill="#000000" textLength="46.97" lengthAdjust="spacingAndGlyphs">RFCC</text>
<rect x="644.15" y="503.5" width="12.7" height="12.7" fill="#3333FF"/>
<text x="663.51" y="515.9" font-size="21" fill="#3333FF" textLength="46.92" lengthAdjust="spacingAndGlyphs">RFCC</text>
<text x="710.43" y="516.5" font-size="21" fill="#3333FF" textLength="11.75" lengthAdjust="spacingAndGlyphs">+</text>
<text x="721.99" y="515.9" font-size="21" fill="#3333FF" textLength="35.92" lengthAdjust="spacingAndGlyphs">MFI</text>
<text x="758.06" y="515.9" font-size="21" fill="#3333FF" textLength="46.24" lengthAdjust="spacingAndGlyphs">2450</text>
<polygon points="644.2,536.75 656.8,536.75 650.5,525.75" fill="#3333FF"/>
<text x="663.51" y="538" font-size="21" fill="#3333FF" textLength="46.92" lengthAdjust="spacingAndGlyphs">RFCC</text>
<text x="710.43" y="538.6" font-size="21" fill="#3333FF" textLength="11.75" lengthAdjust="spacingAndGlyphs">+</text>
<text x="721.99" y="538" font-size="21" fill="#3333FF" textLength="35.92" lengthAdjust="spacingAndGlyphs">MFI</text>
<text x="758.43" y="538" font-size="21" fill="#3333FF" textLength="45.86" lengthAdjust="spacingAndGlyphs">1500</text>
<polygon points="644.2,547.3 656.8,547.3 650.5,557.9" fill="#3333FF"/>
<text x="663.51" y="560.2" font-size="21" fill="#3333FF" textLength="46.92" lengthAdjust="spacingAndGlyphs">RFCC</text>
<text x="710.43" y="560.8" font-size="21" fill="#3333FF" textLength="11.75" lengthAdjust="spacingAndGlyphs">+</text>
<text x="721.99" y="560.2" font-size="21" fill="#3333FF" textLength="35.92" lengthAdjust="spacingAndGlyphs">MFI</text>
<text x="758.43" y="560.2" font-size="21" fill="#3333FF" textLength="45.86" lengthAdjust="spacingAndGlyphs">1000</text>
<rect x="644" y="570.35" width="12.8" height="12.8" fill="#fff" stroke="#3333FF" stroke-width="1.4"/>
<text x="663.51" y="582.7" font-size="21" fill="#3333FF" textLength="46.92" lengthAdjust="spacingAndGlyphs">RFCC</text>
<text x="710.43" y="583.3" font-size="21" fill="#3333FF" textLength="11.75" lengthAdjust="spacingAndGlyphs">+</text>
<text x="721.99" y="582.7" font-size="21" fill="#3333FF" textLength="35.92" lengthAdjust="spacingAndGlyphs">MFI</text>
<text x="758.06" y="582.7" font-size="21" fill="#3333FF" textLength="34.85" lengthAdjust="spacingAndGlyphs">280</text>
<polygon points="644.34,602.1 656.26,602.1 650.3,592.25" fill="#fff" stroke="#3333FF" stroke-width="1.4"/>
<text x="663.51" y="605" font-size="21" fill="#3333FF" textLength="46.92" lengthAdjust="spacingAndGlyphs">RFCC</text>
<text x="710.43" y="605.6" font-size="21" fill="#3333FF" textLength="11.75" lengthAdjust="spacingAndGlyphs">+</text>
<text x="721.99" y="605" font-size="21" fill="#3333FF" textLength="35.92" lengthAdjust="spacingAndGlyphs">MFI</text>
<text x="758.27" y="605" font-size="21" fill="#3333FF" textLength="23.13" lengthAdjust="spacingAndGlyphs">50</text>
<rect x="107.5" y="915" width="365.5" height="362.5" fill="none" stroke="#444444" stroke-width="1.2"/>
<text x="96.1" y="1287.5" font-size="23.8" text-anchor="end" textLength="12.84" lengthAdjust="spacingAndGlyphs">0</text>
<text x="96.1" y="1215" font-size="23.8" text-anchor="end" textLength="12.84" lengthAdjust="spacingAndGlyphs">1</text>
<text x="96.1" y="1142.5" font-size="23.8" text-anchor="end" textLength="12.84" lengthAdjust="spacingAndGlyphs">2</text>
<text x="96.1" y="1070" font-size="23.8" text-anchor="end" textLength="12.84" lengthAdjust="spacingAndGlyphs">3</text>
<text x="96.1" y="997.5" font-size="23.8" text-anchor="end" textLength="12.84" lengthAdjust="spacingAndGlyphs">4</text>
<text x="96.1" y="925" font-size="23.8" text-anchor="end" textLength="12.84" lengthAdjust="spacingAndGlyphs">5</text>
<text x="107.5" y="1309.4" font-size="23.8" text-anchor="middle" textLength="12.97" lengthAdjust="spacingAndGlyphs">0</text>
<text x="180.6" y="1309.4" font-size="23.8" text-anchor="middle" textLength="25.94" lengthAdjust="spacingAndGlyphs">20</text>
<text x="253.7" y="1309.4" font-size="23.8" text-anchor="middle" textLength="25.94" lengthAdjust="spacingAndGlyphs">40</text>
<text x="326.8" y="1309.4" font-size="23.8" text-anchor="middle" textLength="25.94" lengthAdjust="spacingAndGlyphs">60</text>
<text x="399.9" y="1309.4" font-size="23.8" text-anchor="middle" textLength="25.94" lengthAdjust="spacingAndGlyphs">80</text>
<text x="473" y="1309.4" font-size="23.8" text-anchor="middle" textLength="38.92" lengthAdjust="spacingAndGlyphs">100</text>
<path d="M101.1,1241.5H107.5M98.1,1204.5H107.5M101.1,1168.5H107.5M98.1,1132.5H107.5M101.1,1096.5H107.5M98.1,1059.5H107.5M101.1,1023.5H107.5M98.1,987.5H107.5M101.1,951.5H107.5M98.1,915H107.5M107.5,1277.5V1286.9M143.5,1277.5V1283.9M180.5,1277.5V1286.9M216.5,1277.5V1283.9M253.5,1277.5V1286.9M290.5,1277.5V1283.9M326.5,1277.5V1286.9M363.5,1277.5V1283.9M399.5,1277.5V1286.9M436.5,1277.5V1283.9M473,1277.5V1286.9" stroke="#444444" stroke-width="1.2" fill="none"/>
<text x="213.85" y="1333.8" font-size="23.1" textLength="155.47" lengthAdjust="spacingAndGlyphs">Conversion [%]</text>
<text x="47.9" y="1179.25" font-size="23.1" textLength="170.28" lengthAdjust="spacingAndGlyphs" transform="rotate(-90 47.9 1179.25)">Coke yield [wt%]</text>
<text x="6.59" y="931.5" font-size="35" textLength="43.63" lengthAdjust="spacingAndGlyphs">(e)</text>
<circle cx="371.7" cy="1199.6" r="5.2" fill="#000000"/>
<circle cx="386" cy="1194.9" r="5.2" fill="#000000"/>
<circle cx="448.1" cy="997.8" r="5.2" fill="#000000"/>
<rect x="385.55" y="1266.55" width="11.9" height="11.9" fill="#CC9900"/>
<path d="M395.95,1268.75V1276.95H387.35" fill="none" stroke="#fff" stroke-opacity="0.42" stroke-width="0.9"/>
<rect x="396.55" y="1263.85" width="11.9" height="11.9" fill="#CC9900"/>
<path d="M406.95,1266.05V1274.25H398.35" fill="none" stroke="#fff" stroke-opacity="0.42" stroke-width="0.9"/>
<rect x="466.25" y="1136.15" width="11.9" height="11.9" fill="#CC9900"/>
<path d="M476.65,1138.35V1146.55H468.05" fill="none" stroke="#fff" stroke-opacity="0.42" stroke-width="0.9"/>
<polygon points="303.85,1269.35 316.55,1269.35 310.2,1257.25" fill="#CC9900"/>
<polygon points="314.65,1198.55 327.35,1198.55 321,1186.45" fill="#CC9900"/>
<polygon points="459.55,1246.55 472.25,1246.55 465.9,1234.45" fill="#CC9900"/>
<rect x="312.35" y="1268.75" width="11.9" height="11.9" fill="#FF0000"/>
<path d="M322.75,1270.95V1279.15H314.15" fill="none" stroke="#fff" stroke-opacity="0.42" stroke-width="0.9"/>
<rect x="342.35" y="1255.65" width="11.9" height="11.9" fill="#FF0000"/>
<path d="M352.75,1257.85V1266.05H344.15" fill="none" stroke="#fff" stroke-opacity="0.42" stroke-width="0.9"/>
<rect x="385.15" y="1209.85" width="11.9" height="11.9" fill="#FF0000"/>
<path d="M395.55,1212.05V1220.25H386.95" fill="none" stroke="#fff" stroke-opacity="0.42" stroke-width="0.9"/>
<polygon points="189.15,1252.75 201.85,1252.75 195.5,1240.65" fill="#FF0000"/>
<polygon points="245.35,1237.15 258.05,1237.15 251.7,1225.05" fill="#FF0000"/>
<polygon points="345.35,1216.65 358.05,1216.65 351.7,1204.55" fill="#FF0000"/>
<polygon points="363.15,1243.65 375.85,1243.65 369.5,1231.55" fill="#FF0000"/>
<polygon points="388.15,1214.05 400.85,1214.05 394.5,1201.95" fill="#FF0000"/>
<polygon points="432.45,1131.95 445.15,1131.95 438.8,1119.85" fill="#FF0000"/>
<path d="M312.8,1271.9 L314.15,1271.74 L315.87,1271.54 L317.91,1271.31 L320.19,1271.05 L322.66,1270.77 L325.25,1270.46 L327.89,1270.14 L330.53,1269.8 L333.08,1269.45 L335.5,1269.1 L337.81,1268.74 L340.1,1268.36 L342.39,1267.97 L344.68,1267.56 L346.99,1267.14 L349.33,1266.71 L351.72,1266.25 L354.17,1265.79 L356.69,1265.3 L359.3,1264.8 L362.03,1264.28 L364.9,1263.74 L367.87,1263.19 L370.91,1262.62 L373.98,1262.04 L377.04,1261.44 L380.07,1260.82 L383.03,1260.2 L385.88,1259.55 L388.6,1258.9 L391.22,1258.24 L393.8,1257.58 L396.33,1256.9 L398.8,1256.22 L401.21,1255.52 L403.55,1254.8 L405.81,1254.05 L407.97,1253.27 L410.04,1252.45 L412,1251.6 L413.82,1250.73 L415.5,1249.85 L417.05,1248.96 L418.51,1248.05 L419.9,1247.1 L421.24,1246.1 L422.57,1245.04 L423.91,1243.92 L425.27,1242.7 L426.7,1241.4 L428.18,1240.02 L429.67,1238.58 L431.18,1237.07 L432.69,1235.51 L434.19,1233.87 L435.67,1232.16 L437.14,1230.37 L438.57,1228.5 L439.96,1226.54 L441.3,1224.5 L442.6,1222.32 L443.87,1219.99 L445.11,1217.53 L446.33,1214.98 L447.51,1212.37 L448.67,1209.74 L449.79,1207.11 L450.89,1204.52 L451.96,1202.01 L453,1199.6 L454,1197.27 L454.96,1194.97 L455.88,1192.69 L456.76,1190.45 L457.62,1188.23 L458.47,1186.04 L459.3,1183.89 L460.13,1181.76 L460.96,1179.67 L461.8,1177.6 L462.67,1175.49 L463.59,1173.3 L464.54,1171.08 L465.48,1168.87 L466.4,1166.72 L467.28,1164.69 L468.09,1162.81 L468.81,1161.14 L469.42,1159.72 L469.9,1158.6" fill="none" stroke="#CD8E00" stroke-width="2.5" stroke-dasharray="8.7 6.3"/>
<path d="M191.7,1262.5 L193.52,1262.27 L195.86,1261.98 L198.63,1261.64 L201.74,1261.26 L205.09,1260.84 L208.59,1260.4 L212.15,1259.95 L215.66,1259.49 L219.05,1259.04 L222.2,1258.6 L225.2,1258.17 L228.19,1257.72 L231.17,1257.27 L234.14,1256.82 L237.1,1256.35 L240.06,1255.88 L243.02,1255.39 L245.97,1254.9 L248.93,1254.41 L251.9,1253.9 L254.88,1253.39 L257.87,1252.86 L260.86,1252.33 L263.86,1251.79 L266.85,1251.24 L269.84,1250.69 L272.81,1250.13 L275.76,1249.56 L278.69,1248.98 L281.6,1248.4 L284.47,1247.81 L287.3,1247.22 L290.1,1246.62 L292.88,1246.01 L295.65,1245.39 L298.42,1244.77 L301.2,1244.14 L304,1243.5 L306.83,1242.86 L309.7,1242.2 L312.65,1241.53 L315.69,1240.84 L318.8,1240.14 L321.94,1239.42 L325.06,1238.71 L328.15,1237.99 L331.16,1237.27 L334.06,1236.57 L336.82,1235.88 L339.4,1235.2 L341.78,1234.56 L344,1233.96 L346.07,1233.38 L348.04,1232.82 L349.92,1232.26 L351.77,1231.67 L353.59,1231.06 L355.44,1230.4 L357.33,1229.69 L359.3,1228.9 L361.33,1228.06 L363.36,1227.19 L365.41,1226.29 L367.46,1225.35 L369.51,1224.36 L371.57,1223.33 L373.63,1222.24 L375.69,1221.1 L377.75,1219.88 L379.8,1218.6 L381.89,1217.24 L384.04,1215.8 L386.23,1214.29 L388.42,1212.72 L390.6,1211.09 L392.73,1209.43 L394.8,1207.73 L396.76,1206 L398.61,1204.25 L400.3,1202.5 L401.83,1200.72 L403.2,1198.91 L404.46,1197.06 L405.61,1195.18 L406.7,1193.28 L407.74,1191.35 L408.77,1189.4 L409.8,1187.44 L410.87,1185.47 L412,1183.5 L413.19,1181.5 L414.41,1179.45 L415.65,1177.37 L416.89,1175.27 L418.12,1173.16 L419.33,1171.06 L420.51,1168.98 L421.64,1166.94 L422.7,1164.94 L423.7,1163 L424.61,1161.13 L425.46,1159.31 L426.24,1157.53 L426.97,1155.78 L427.68,1154.06 L428.35,1152.35 L429.02,1150.64 L429.7,1148.92 L430.38,1147.18 L431.1,1145.4 L431.87,1143.52 L432.68,1141.49 L433.53,1139.38 L434.38,1137.25 L435.21,1135.15 L436.01,1133.14 L436.75,1131.27 L437.41,1129.6 L437.97,1128.19 L438.4,1127.1" fill="none" stroke="#FF0000" stroke-width="2.5" stroke-dasharray="8.7 6.3"/>
<path d="M394.5,1189.6 L395.29,1189.11 L396.33,1188.49 L397.56,1187.76 L398.93,1186.94 L400.41,1186.04 L401.93,1185.1 L403.46,1184.14 L404.95,1183.17 L406.34,1182.22 L407.6,1181.3 L408.77,1180.39 L409.93,1179.44 L411.08,1178.47 L412.2,1177.48 L413.29,1176.49 L414.34,1175.5 L415.33,1174.53 L416.26,1173.58 L417.12,1172.67 L417.9,1171.8 L418.57,1171.01 L419.11,1170.31 L419.56,1169.66 L419.95,1169.04 L420.29,1168.43 L420.61,1167.8 L420.95,1167.11 L421.33,1166.35 L421.77,1165.49 L422.3,1164.5 L422.93,1163.36 L423.64,1162.1 L424.4,1160.73 L425.19,1159.28 L426.01,1157.79 L426.81,1156.27 L427.6,1154.76 L428.34,1153.27 L429.01,1151.85 L429.6,1150.5 L430.1,1149.28 L430.52,1148.17 L430.89,1147.15 L431.21,1146.16 L431.51,1145.16 L431.79,1144.11 L432.07,1142.97 L432.38,1141.7 L432.71,1140.26 L433.1,1138.6 L433.53,1136.74 L433.99,1134.73 L434.47,1132.58 L434.96,1130.31 L435.46,1127.93 L435.97,1125.46 L436.47,1122.9 L436.96,1120.28 L437.44,1117.61 L437.9,1114.9 L438.34,1112.11 L438.78,1109.19 L439.22,1106.18 L439.64,1103.09 L440.06,1099.94 L440.47,1096.75 L440.87,1093.56 L441.26,1090.37 L441.64,1087.21 L442,1084.1 L442.35,1081.02 L442.68,1077.92 L443,1074.81 L443.31,1071.7 L443.61,1068.6 L443.9,1065.51 L444.19,1062.44 L444.46,1059.39 L444.73,1056.38 L445,1053.4 L445.26,1050.44 L445.52,1047.47 L445.78,1044.51 L446.02,1041.56 L446.26,1038.65 L446.49,1035.78 L446.71,1032.97 L446.92,1030.23 L447.12,1027.57 L447.3,1025 L447.47,1022.45 L447.63,1019.85 L447.78,1017.26 L447.92,1014.72 L448.04,1012.27 L448.16,1009.97 L448.26,1007.86 L448.35,1005.97 L448.43,1004.37 L448.5,1003.1" fill="none" stroke="#000000" stroke-width="2.5" stroke-dasharray="8.7 6.3"/>
<circle cx="124.55" cy="935.2" r="6.5" fill="#000000"/>
<text x="137.2" y="942.7" font-size="21" fill="#000000" textLength="47.33" lengthAdjust="spacingAndGlyphs">RFCC</text>
<rect x="118.25" y="952" width="12.7" height="12.7" fill="#CC9900"/>
<path d="M142.3,951.1V957.9M139.05,952.63L145.55,956.38M139.05,956.38L145.55,952.63" stroke="#CC9900" stroke-width="1.35" stroke-linecap="round" fill="none"/>
<text x="148.63" y="966.3" font-size="21" fill="#CC9900" textLength="35.91" lengthAdjust="spacingAndGlyphs">BEA</text>
<text x="185.15" y="966.3" font-size="21" fill="#CC9900" textLength="35.26" lengthAdjust="spacingAndGlyphs">500</text>
<polygon points="118.4,987.3 131,987.3 124.7,976.3" fill="#CC9900"/>
<path d="M142.3,973.4V980.2M139.05,974.93L145.55,978.68M139.05,978.68L145.55,974.93" stroke="#CC9900" stroke-width="1.35" stroke-linecap="round" fill="none"/>
<text x="148.63" y="988.6" font-size="21" fill="#CC9900" textLength="35.91" lengthAdjust="spacingAndGlyphs">BEA</text>
<text x="185.21" y="988.6" font-size="21" fill="#CC9900" textLength="34.9" lengthAdjust="spacingAndGlyphs">386</text>
<rect x="118.25" y="1000.3" width="12.7" height="12.7" fill="#FF0000"/>
<text x="137.2" y="1014.4" font-size="21" fill="#FF0000" textLength="47.54" lengthAdjust="spacingAndGlyphs">RFCC</text>
<text x="184.11" y="1015" font-size="21" fill="#FF0000" textLength="11.99" lengthAdjust="spacingAndGlyphs">+</text>
<path d="M201.15,999.2V1006M197.9,1000.73L204.4,1004.48M197.9,1004.48L204.4,1000.73" stroke="#FF0000" stroke-width="1.35" stroke-linecap="round" fill="none"/>
<text x="207.41" y="1014.4" font-size="21" fill="#FF0000" textLength="36.32" lengthAdjust="spacingAndGlyphs">BEA</text>
<text x="244.36" y="1014.4" font-size="21" fill="#FF0000" textLength="34.84" lengthAdjust="spacingAndGlyphs">500</text>
<polygon points="118.3,1033.55 130.9,1033.55 124.6,1022.55" fill="#FF0000"/>
<text x="137.2" y="1036.9" font-size="21" fill="#FF0000" textLength="47.54" lengthAdjust="spacingAndGlyphs">RFCC</text>
<text x="184.11" y="1037.5" font-size="21" fill="#FF0000" textLength="11.99" lengthAdjust="spacingAndGlyphs">+</text>
<path d="M201.15,1021.7V1028.5M197.9,1023.23L204.4,1026.98M197.9,1026.98L204.4,1023.23" stroke="#FF0000" stroke-width="1.35" stroke-linecap="round" fill="none"/>
<text x="207.41" y="1036.9" font-size="21" fill="#FF0000" textLength="36.32" lengthAdjust="spacingAndGlyphs">BEA</text>
<text x="244.41" y="1036.9" font-size="21" fill="#FF0000" textLength="34.48" lengthAdjust="spacingAndGlyphs">386</text>
<rect x="632.5" y="916.5" width="365.5" height="363" fill="none" stroke="#444444" stroke-width="1.2"/>
<text x="621.1" y="1289.5" font-size="23.8" text-anchor="end" textLength="12.84" lengthAdjust="spacingAndGlyphs">0</text>
<text x="621.1" y="1216.9" font-size="23.8" text-anchor="end" textLength="12.84" lengthAdjust="spacingAndGlyphs">1</text>
<text x="621.1" y="1144.3" font-size="23.8" text-anchor="end" textLength="12.84" lengthAdjust="spacingAndGlyphs">2</text>
<text x="621.1" y="1071.7" font-size="23.8" text-anchor="end" textLength="12.84" lengthAdjust="spacingAndGlyphs">3</text>
<text x="621.1" y="999.1" font-size="23.8" text-anchor="end" textLength="12.84" lengthAdjust="spacingAndGlyphs">4</text>
<text x="621.1" y="926.5" font-size="23.8" text-anchor="end" textLength="12.84" lengthAdjust="spacingAndGlyphs">5</text>
<text x="632.5" y="1311.4" font-size="23.8" text-anchor="middle" textLength="12.97" lengthAdjust="spacingAndGlyphs">0</text>
<text x="705.6" y="1311.4" font-size="23.8" text-anchor="middle" textLength="25.94" lengthAdjust="spacingAndGlyphs">20</text>
<text x="778.7" y="1311.4" font-size="23.8" text-anchor="middle" textLength="25.94" lengthAdjust="spacingAndGlyphs">40</text>
<text x="851.8" y="1311.4" font-size="23.8" text-anchor="middle" textLength="25.94" lengthAdjust="spacingAndGlyphs">60</text>
<text x="924.9" y="1311.4" font-size="23.8" text-anchor="middle" textLength="25.94" lengthAdjust="spacingAndGlyphs">80</text>
<text x="998" y="1311.4" font-size="23.8" text-anchor="middle" textLength="38.92" lengthAdjust="spacingAndGlyphs">100</text>
<path d="M626.1,1243.5H632.5M623.1,1206.5H632.5M626.1,1170.5H632.5M623.1,1134.5H632.5M626.1,1097.5H632.5M623.1,1061.5H632.5M626.1,1025.5H632.5M623.1,988.5H632.5M626.1,952.5H632.5M623.1,916.5H632.5M632.5,1279.5V1288.9M668.5,1279.5V1285.9M705.5,1279.5V1288.9M741.5,1279.5V1285.9M778.5,1279.5V1288.9M815.5,1279.5V1285.9M851.5,1279.5V1288.9M888.5,1279.5V1285.9M924.5,1279.5V1288.9M961.5,1279.5V1285.9M998,1279.5V1288.9" stroke="#444444" stroke-width="1.2" fill="none"/>
<text x="738.85" y="1336" font-size="23.1" textLength="155.47" lengthAdjust="spacingAndGlyphs">Conversion [%]</text>
<text x="573" y="1181.45" font-size="23.1" textLength="170.08" lengthAdjust="spacingAndGlyphs" transform="rotate(-90 573 1181.45)">Coke yield [wt%]</text>
<text x="533.56" y="931.2" font-size="35" textLength="34.07" lengthAdjust="spacingAndGlyphs">(f)</text>
<circle cx="896.6" cy="1201.1" r="5.4" fill="#000000"/>
<circle cx="911.2" cy="1196.7" r="5.4" fill="#000000"/>
<circle cx="972.8" cy="999.4" r="5.4" fill="#000000"/>
<rect x="826.2" y="1229" width="12.6" height="12.6" fill="#0000D8"/>
<path d="M837.3,1231.2V1240.1H828" fill="none" stroke="#fff" stroke-opacity="0.42" stroke-width="0.9"/>
<rect x="894.3" y="1197.6" width="12.6" height="12.6" fill="#0000D8"/>
<path d="M905.4,1199.8V1208.7H896.1" fill="none" stroke="#fff" stroke-opacity="0.42" stroke-width="0.9"/>
<rect x="985.2" y="999.1" width="12.6" height="12.6" fill="#0000D8"/>
<path d="M996.3,1001.3V1010.2H987" fill="none" stroke="#fff" stroke-opacity="0.42" stroke-width="0.9"/>
<polygon points="844.3,1234.2 857.7,1234.2 851,1221.4" fill="#0000D8"/>
<polygon points="973.8,1126.7 987.2,1126.7 980.5,1113.9" fill="#0000D8"/>
<polygon points="980.7,1013.9 994.1,1013.9 987.4,1001.1" fill="#0000D8"/>
<polygon points="962.2,1092.1 975.6,1092.1 968.9,1104.9" fill="#0000D8"/>
<polygon points="974.1,957 987.5,957 980.8,969.8" fill="#0000D8"/>
<rect x="869.25" y="1247.45" width="10.9" height="10.9" fill="#fff" stroke="#0000D8" stroke-width="1.5"/>
<rect x="897.05" y="1235.35" width="10.9" height="10.9" fill="#fff" stroke="#0000D8" stroke-width="1.5"/>
<rect x="966.85" y="1117.95" width="10.9" height="10.9" fill="#fff" stroke="#0000D8" stroke-width="1.5"/>
<polygon points="934.64,1203.85 945.16,1203.85 939.9,1193.82" fill="#fff" stroke="#0000D8" stroke-width="1.5"/>
<polygon points="947.44,1189.75 957.96,1189.75 952.7,1179.72" fill="#fff" stroke="#0000D8" stroke-width="1.5"/>
<polygon points="984.34,1157.15 994.86,1157.15 989.6,1147.12" fill="#fff" stroke="#0000D8" stroke-width="1.5"/>
<path d="M837.3,1250.3 L838.32,1249.88 L839.57,1249.36 L841.03,1248.75 L842.68,1248.07 L844.49,1247.32 L846.43,1246.51 L848.49,1245.64 L850.64,1244.73 L852.85,1243.78 L855.1,1242.8 L857.46,1241.77 L859.99,1240.67 L862.66,1239.51 L865.44,1238.29 L868.29,1237.04 L871.19,1235.75 L874.09,1234.44 L876.96,1233.13 L879.78,1231.81 L882.5,1230.5 L885.17,1229.2 L887.84,1227.88 L890.51,1226.56 L893.16,1225.22 L895.79,1223.86 L898.4,1222.49 L900.97,1221.1 L903.5,1219.69 L905.98,1218.26 L908.4,1216.8 L910.79,1215.29 L913.17,1213.72 L915.53,1212.11 L917.86,1210.47 L920.13,1208.82 L922.34,1207.18 L924.48,1205.57 L926.53,1204.01 L928.47,1202.51 L930.3,1201.1 L932,1199.78 L933.57,1198.52 L935.04,1197.33 L936.42,1196.18 L937.73,1195.06 L938.97,1193.96 L940.18,1192.87 L941.35,1191.77 L942.52,1190.65 L943.7,1189.5 L944.87,1188.34 L946,1187.21 L947.11,1186.09 L948.18,1184.97 L949.23,1183.84 L950.24,1182.69 L951.22,1181.5 L952.18,1180.27 L953.1,1178.97 L954,1177.6 L954.86,1176.16 L955.69,1174.67 L956.48,1173.12 L957.24,1171.54 L957.97,1169.91 L958.68,1168.24 L959.37,1166.54 L960.06,1164.82 L960.73,1163.07 L961.4,1161.3 L962.06,1159.48 L962.72,1157.6 L963.35,1155.66 L963.98,1153.69 L964.59,1151.7 L965.18,1149.71 L965.76,1147.74 L966.32,1145.8 L966.87,1143.92 L967.4,1142.1 L967.9,1140.37 L968.38,1138.7 L968.84,1137.09 L969.28,1135.51 L969.7,1133.95 L970.12,1132.39 L970.53,1130.81 L970.95,1129.2 L971.37,1127.53 L971.8,1125.8 L972.24,1124.04 L972.69,1122.31 L973.14,1120.58 L973.59,1118.83 L974.04,1117.03 L974.49,1115.17 L974.93,1113.22 L975.36,1111.15 L975.79,1108.95 L976.2,1106.6 L976.6,1104.06 L977,1101.35 L977.38,1098.48 L977.76,1095.51 L978.14,1092.45 L978.5,1089.34 L978.86,1086.21 L979.22,1083.09 L979.56,1080.01 L979.9,1077 L980.23,1074.01 L980.56,1070.96 L980.88,1067.89 L981.19,1064.8 L981.49,1061.74 L981.79,1058.71 L982.08,1055.74 L982.36,1052.85 L982.64,1050.06 L982.9,1047.4 L983.15,1044.86 L983.39,1042.41 L983.61,1040.04 L983.82,1037.75 L984.03,1035.53 L984.24,1033.36 L984.44,1031.26 L984.65,1029.2 L984.87,1027.18 L985.1,1025.2 L985.35,1023.2 L985.62,1021.16 L985.91,1019.13 L986.2,1017.13 L986.49,1015.21 L986.77,1013.4 L987.02,1011.74 L987.26,1010.26 L987.45,1009 L987.6,1008" fill="none" stroke="#3333FF" stroke-width="2.5" stroke-dasharray="8.7 6.3"/>
<path d="M892,1197 L893.18,1196.5 L894.74,1195.83 L896.61,1195.04 L898.7,1194.15 L900.92,1193.2 L903.2,1192.23 L905.45,1191.27 L907.58,1190.35 L909.53,1189.52 L911.2,1188.8 L912.62,1188.21 L913.88,1187.72 L915.02,1187.3 L916.07,1186.92 L917.06,1186.56 L918.01,1186.19 L918.96,1185.77 L919.94,1185.29 L920.97,1184.71 L922.1,1184 L923.31,1183.17 L924.56,1182.24 L925.85,1181.24 L927.16,1180.16 L928.48,1179.04 L929.8,1177.89 L931.1,1176.71 L932.38,1175.53 L933.62,1174.35 L934.8,1173.2 L935.94,1172.06 L937.06,1170.91 L938.16,1169.75 L939.24,1168.59 L940.29,1167.41 L941.32,1166.21 L942.32,1165.01 L943.3,1163.79 L944.26,1162.55 L945.2,1161.3 L946.11,1160.03 L947,1158.75 L947.87,1157.46 L948.71,1156.15 L949.53,1154.83 L950.33,1153.5 L951.1,1152.14 L951.86,1150.78 L952.59,1149.4 L953.3,1148 L953.99,1146.6 L954.66,1145.21 L955.3,1143.81 L955.92,1142.4 L956.52,1140.97 L957.1,1139.51 L957.66,1138.01 L958.2,1136.47 L958.71,1134.86 L959.2,1133.2 L959.67,1131.47 L960.1,1129.69 L960.52,1127.86 L960.91,1125.98 L961.28,1124.06 L961.63,1122.11 L961.97,1120.12 L962.29,1118.1 L962.6,1116.06 L962.9,1114 L963.18,1111.91 L963.43,1109.78 L963.67,1107.61 L963.88,1105.41 L964.09,1103.18 L964.28,1100.93 L964.48,1098.66 L964.68,1096.38 L964.88,1094.09 L965.1,1091.8 L965.33,1089.49 L965.56,1087.16 L965.79,1084.8 L966.02,1082.43 L966.25,1080.04 L966.48,1077.65 L966.71,1075.26 L966.94,1072.86 L967.17,1070.48 L967.4,1068.1 L967.62,1065.74 L967.85,1063.38 L968.07,1061.04 L968.29,1058.69 L968.51,1056.34 L968.72,1053.99 L968.94,1051.62 L969.16,1049.24 L969.38,1046.83 L969.6,1044.4 L969.82,1041.89 L970.06,1039.29 L970.29,1036.62 L970.53,1033.93 L970.76,1031.24 L970.99,1028.6 L971.21,1026.04 L971.42,1023.6 L971.62,1021.31 L971.8,1019.2 L971.97,1017.23 L972.12,1015.34 L972.27,1013.53 L972.41,1011.82 L972.54,1010.23 L972.65,1008.76 L972.76,1007.42 L972.85,1006.25 L972.93,1005.23 L973,1004.4" fill="none" stroke="#000000" stroke-width="2.5" stroke-dasharray="8.7 6.3"/>
<circle cx="650.4" cy="935.4" r="6.5" fill="#000000"/>
<text x="663.56" y="942.7" font-size="21" fill="#000000" textLength="46.97" lengthAdjust="spacingAndGlyphs">RFCC</text>
<rect x="644.15" y="952.2" width="12.7" height="12.7" fill="#3333FF"/>
<text x="663.51" y="964.5" font-size="21" fill="#3333FF" textLength="46.92" lengthAdjust="spacingAndGlyphs">RFCC</text>
<text x="710.43" y="965.1" font-size="21" fill="#3333FF" textLength="11.75" lengthAdjust="spacingAndGlyphs">+</text>
<text x="721.99" y="964.5" font-size="21" fill="#3333FF" textLength="35.92" lengthAdjust="spacingAndGlyphs">MFI</text>
<text x="758.06" y="964.5" font-size="21" fill="#3333FF" textLength="46.24" lengthAdjust="spacingAndGlyphs">2450</text>
<polygon points="644.2,985.45 656.8,985.45 650.5,974.45" fill="#3333FF"/>
<text x="663.51" y="986.6" font-size="21" fill="#3333FF" textLength="46.92" lengthAdjust="spacingAndGlyphs">RFCC</text>
<text x="710.43" y="987.2" font-size="21" fill="#3333FF" textLength="11.75" lengthAdjust="spacingAndGlyphs">+</text>
<text x="721.99" y="986.6" font-size="21" fill="#3333FF" textLength="35.92" lengthAdjust="spacingAndGlyphs">MFI</text>
<text x="758.43" y="986.6" font-size="21" fill="#3333FF" textLength="45.86" lengthAdjust="spacingAndGlyphs">1500</text>
<polygon points="644.2,996 656.8,996 650.5,1006.6" fill="#3333FF"/>
<text x="663.51" y="1008.8" font-size="21" fill="#3333FF" textLength="46.92" lengthAdjust="spacingAndGlyphs">RFCC</text>
<text x="710.43" y="1009.4" font-size="21" fill="#3333FF" textLength="11.75" lengthAdjust="spacingAndGlyphs">+</text>
<text x="721.99" y="1008.8" font-size="21" fill="#3333FF" textLength="35.92" lengthAdjust="spacingAndGlyphs">MFI</text>
<text x="758.43" y="1008.8" font-size="21" fill="#3333FF" textLength="45.86" lengthAdjust="spacingAndGlyphs">1000</text>
<rect x="644" y="1019.05" width="12.8" height="12.8" fill="#fff" stroke="#3333FF" stroke-width="1.4"/>
<text x="663.51" y="1031.3" font-size="21" fill="#3333FF" textLength="46.92" lengthAdjust="spacingAndGlyphs">RFCC</text>
<text x="710.43" y="1031.9" font-size="21" fill="#3333FF" textLength="11.75" lengthAdjust="spacingAndGlyphs">+</text>
<text x="721.99" y="1031.3" font-size="21" fill="#3333FF" textLength="35.92" lengthAdjust="spacingAndGlyphs">MFI</text>
<text x="758.06" y="1031.3" font-size="21" fill="#3333FF" textLength="34.85" lengthAdjust="spacingAndGlyphs">280</text>
<polygon points="644.34,1050.8 656.26,1050.8 650.3,1040.95" fill="#fff" stroke="#3333FF" stroke-width="1.4"/>
<text x="663.51" y="1053.6" font-size="21" fill="#3333FF" textLength="46.92" lengthAdjust="spacingAndGlyphs">RFCC</text>
<text x="710.43" y="1054.2" font-size="21" fill="#3333FF" textLength="11.75" lengthAdjust="spacingAndGlyphs">+</text>
<text x="721.99" y="1053.6" font-size="21" fill="#3333FF" textLength="35.92" lengthAdjust="spacingAndGlyphs">MFI</text>
<text x="758.27" y="1053.6" font-size="21" fill="#3333FF" textLength="23.13" lengthAdjust="spacingAndGlyphs">50</text>
</svg>
</body></html>
